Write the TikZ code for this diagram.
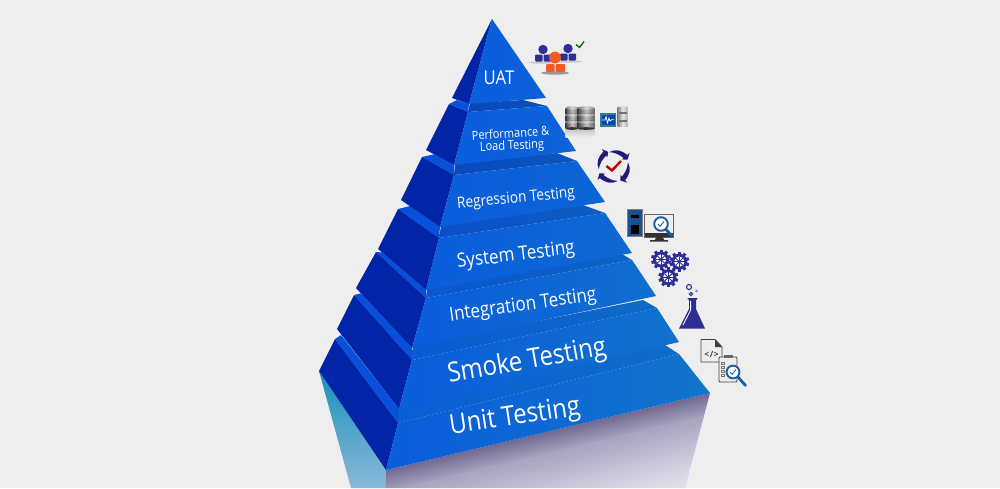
\documentclass[tikz,border=0pt]{standalone}
\usepackage{fontspec}
\setmainfont{Open Sans}
\newfontfamily\labf[FakeStretch=0.88]{Open Sans}
\definecolor{bgc}{HTML}{EEEEEE}
\definecolor{frontL}{HTML}{0A5DDC}
\definecolor{frontR}{HTML}{1274CB}
\definecolor{sidec}{HTML}{0225A8}
\definecolor{stripc}{HTML}{0750DC}
\definecolor{navy}{HTML}{2E2F96}
\definecolor{deepnavy}{HTML}{1F1B78}
\definecolor{orangec}{HTML}{F15A24}
\definecolor{lensb}{HTML}{1B5FA8}
\definecolor{tealT}{HTML}{1592BC}
\definecolor{tealM}{HTML}{0672BA}
\definecolor{tealB}{HTML}{8AB8D8}
\definecolor{lilA}{HTML}{6E668F}
\definecolor{lilB}{HTML}{A8A4C0}
\definecolor{lilC}{HTML}{D6D5E4}
\tikzset{
  lab/.style={text=white,inner sep=0pt,align=center},
  side/.style={fill=sidec},
  paper/.style={draw=black!75,line width=.9pt,fill=bgc,line join=round},
  lens/.style={draw=lensb,line width=1.9pt,fill=white},
  lenshandle/.style={draw=lensb,line width=2.8pt,line cap=round},
}
% #1 side polygon, #2 front polygon, #3 percent towards frontR
\newcommand{\layerfaces}[3]{%
  \fill[side] #1 -- cycle;
  \shade[left color=frontL,right color=frontR!#3!frontL] #2 -- cycle;
}
% #1 strip polygon, #2 ledge polygon, #3 #4 ledge colours
\newcommand{\ledgeface}[4]{%
  \definecolor{lgl}{HTML}{#3}\definecolor{lgr}{HTML}{#4}%
  \shade[left color=lgl,right color=lgr] #2 -- cycle;
  \fill[stripc] #1 -- cycle;
}
\newcommand{\gearicon}[2]{%
  \begin{scope}[shift={(#1,#2)}]
    \foreach \a in {0,36,...,324}{\fill[navy,rotate=\a] (-1.5,-10) rectangle (1.5,-6);}
    \fill[navy] (0,0) circle (8);
    \fill[white] (0,0) circle (5.2);
    \foreach \a in {0,45,90,135}{\draw[navy,line width=.9pt,rotate=\a] (-5.2,0) -- (5.2,0);}
    \fill[navy] (0,0) circle (1.6);
  \end{scope}}
\newcommand{\dbstack}[3]{% x, top y, half width
  \begin{scope}[shift={(#1,#2)}]
    \shade[top color=black!25,bottom color=bgc] (-#3,20) rectangle (#3,29);
    \foreach \k in {0,7,14}{
      \shade[left color=black!75,right color=black!60,middle color=black!25]
        (-#3,\k) rectangle (#3,\k+6.5);
      \fill[black!80] (0,\k+6.5) ellipse (#3 and 1.3);
      \shade[left color=black!55,right color=black!45,middle color=black!15] (0,\k) ellipse (#3 and 1.7);
    }
  \end{scope}}
\begin{document}
\begin{tikzpicture}[x=1pt,y=-1pt]
\useasboundingbox (0,0) rectangle (1000,488);
\fill[bgc] (0,0) rectangle (1000,488);

% plinth below the pyramid
\shade[top color=tealT,middle color=tealM,bottom color=tealB]
  (319,371) -- (386,470) -- (386,488) -- (351,488) -- cycle;
\begin{scope}
  \clip (386,470) -- (710,393) -- (685,488) -- (386,488) -- cycle;
  \begin{scope}[transform canvas={rotate around={13.4:(386,470)}}]
    \shade[top color=lilA,bottom color=lilB] (330,469) rectangle (780,492);
    \shade[top color=lilB,bottom color=lilC] (330,491.8) rectangle (780,540);
    \shade[top color=lilC,bottom color=bgc] (330,539.8) rectangle (780,580);
    \fill[bgc] (330,579.8) rectangle (780,640);
  \end{scope}
\end{scope}

% Unit
\ledgeface{(335,339) -- (341,335) -- (399,409) -- (398,423)}{(399,407) -- (665,345) -- (679,354) -- (398,423)}{0A60D6}{0F6CC8}
\layerfaces{(335,339) -- (398,423) -- (386,470) -- (319,371)}{(398,423) -- (679,354) -- (710,393) -- (386,470)}{100}
% Smoke
\ledgeface{(354,295) -- (361,293.4) -- (412,348) -- (412,360)}{(413,346) -- (643,300) -- (657,308) -- (412,360)}{0A5CD4}{0E6AC6}
\layerfaces{(354,295) -- (412,360) -- (399,409) -- (337,329)}{(412,360) -- (657,308) -- (679,342) -- (399,409)}{88}
% Integration
\ledgeface{(376,252) -- (382,252.4) -- (426,290) -- (426,298)}{(427,288) -- (622,254) -- (632,260) -- (426,298)}{0A56D0}{0D64C4}
\layerfaces{(376,252) -- (426,298) -- (412,348) -- (356,288)}{(426,298) -- (632,260) -- (656,296) -- (412,348)}{75}
% System
\ledgeface{(398,209) -- (410,206) -- (440,227) -- (439,238)}{(441,226) -- (583,205) -- (605,213) -- (439,238)}{0A4EC6}{0C5EC4}
\layerfaces{(398,209) -- (439,238) -- (426,290) -- (378,249)}{(439,238) -- (605,213) -- (632,253) -- (426,290)}{55}
% Regression
\ledgeface{(422,157) -- (434,154.3) -- (454,165) -- (454,175)}{(455,164) -- (557,153) -- (577,161) -- (454,175)}{0A48BC}{0B56C0}
\layerfaces{(422,157) -- (454,175) -- (440,227) -- (401,200)}{(454,175) -- (577,161) -- (605,202) -- (440,227)}{35}
% Performance
\ledgeface{(449,104) -- (457,100) -- (469,104) -- (468,112)}{(470,103) -- (523,100) -- (547,106) -- (468,112)}{0A47B8}{0A50BE}
\layerfaces{(449,104) -- (468,112) -- (454,165) -- (426,150)}{(468,112) -- (547,106) -- (576,151) -- (454,165)}{25}
% UAT
\layerfaces{(492,19) -- (469,104) -- (452,98)}{(492,19) -- (546,98) -- (469,104)}{15}

% labels
\node[lab,font=\labf\fontsize{19}{21}\selectfont] (uat) at (499,78) {UAT};
\node[lab,font=\labf\fontsize{12.5}{14}\selectfont,rotate=4] (perf) at (510.5,133) {Performance \&};
\node[lab,font=\labf\fontsize{12.5}{14}\selectfont,rotate=2.5] (load) at (512,146.5) {Load Testing};
\node[lab,font=\labf\fontsize{15.5}{17}\selectfont,rotate=5.5] (regr) at (516,199) {Regression Testing};
\node[lab,font=\labf\fontsize{19.4}{21}\selectfont,rotate=7] (syst) at (516,256) {System Testing};
\node[lab,font=\labf\fontsize{19.4}{21}\selectfont,rotate=8] (inte) at (523,306) {Integration Testing};
\node[lab,font=\labf\fontsize{27.2}{30}\selectfont,rotate=10] (smok) at (527,362) {Smoke Testing};
\node[lab,font=\labf\fontsize{27.2}{30}\selectfont,rotate=8.5] (unit) at (515,418) {Unit Testing};

% people icon
\fill[black!22] (543,62.5) ellipse (14 and 1.2);
\fill[black!22] (568,61.5) ellipse (14 and 1.2);
\fill[black!40] (555,73) ellipse (14 and 1.7);
\fill[navy] (543,49.5) circle (4.7);
\fill[navy,rounded corners=1pt] (535,54.5) rectangle (542.5,61.5) (543.5,54.5) rectangle (551,61.5);
\fill[navy] (568,48.5) circle (4.7);
\fill[navy,rounded corners=1pt] (560,53.5) rectangle (567.5,60.5) (568.5,53.5) rectangle (576,60.5);
\fill[orangec] (555,57.5) circle (5.9);
\fill[orangec,rounded corners=1pt] (546,64) rectangle (554.5,72) (555.5,64) rectangle (565,72);
\draw[green!40!black,line width=1.3pt,line join=round] (576,44.5) -- (579.5,47.5) -- (584,41.5);

% databases and monitor
\dbstack{572}{108}{6.5}
\dbstack{586}{108}{8.5}
\fill[black!12] (617,106) rectangle (628,127);
\shade[left color=black!50,right color=black!30,middle color=black!10] (617.5,107) rectangle (627.5,126.5);
\foreach \yy in {112,120}{\fill[black!55] (618.5,\yy) rectangle (626.5,\yy+1.6);}
\fill[teal!60!gray] (600,113) rectangle (616,127);
\fill[blue!60!cyan!70!black] (601.5,115) rectangle (614.5,125);
\draw[white,line width=.7pt] (602,120) -- (605,120) -- (606,116.5) -- (607.5,123) -- (609,118) -- (610,121) -- (612,119.5) -- (614,120);

% regression cycle icon
\begin{scope}[shift={(613.5,166.5)}]
  \foreach \a in {-190,-106,-16,74}{
    \fill[deepnavy] (\a:15) .. controls (\a+25:18) and (\a+40:18) .. (\a+66:18)
      -- (\a+66:21) -- (\a+80:15.6) -- (\a+66:11) -- (\a+66:13.2)
      .. controls (\a+40:13.2) and (\a+25:14) .. (\a:15) -- cycle;
  }
  \draw[red!75!black,line width=2.4pt,line join=miter] (-7,-0.5) -- (-1.5,4) -- (7.5,-5.5);
\end{scope}

% system icon
\fill[lensb!85!black,draw=black!50,line width=.9pt] (627.5,209.5) rectangle (642,236);
\fill[black] (631,215) rectangle (639,218);
\fill[black] (631,225) rectangle (639,234);
\fill[bgc,draw=black!60,line width=1pt] (644.5,214.5) rectangle (673,237);
\fill[black!80] (644.5,232.5) rectangle (673,237);
\fill[black!80] (656,237) -- (663,237) -- (664,240) -- (668,240) -- (668,241.5) -- (650,241.5) -- (650,240) -- (655,240) -- cycle;
\draw[lenshandle] (666,229.5) -- (671.5,235.5);
\draw[lens] (661,224) circle (6.8);
\draw[lensb,line width=.9pt] (658,224) -- (660.3,226.2) -- (664,221.5);

% gears
\gearicon{679.3}{261.7}
\gearicon{661}{259.5}
\gearicon{668.3}{277.3}

% flask
\fill[navy] (687.5,298) -- (697.5,298) -- (697,299.6) -- (696,299.6) -- (696,309) -- (705,328.5) -- (679,328.5) -- (689,309) -- (689,299.6) -- (688,299.6) -- cycle;
\draw[white,line width=.8pt] (690.6,301) -- (690.6,310) -- (683,325);
\draw[navy,line width=1.1pt] (689,287) circle (2.5);
\draw[navy,line width=1pt] (691,294) circle (1.7);
\draw[navy!70,line width=.5pt] (696.4,291) circle (1);

% code document and clipboard
\draw[paper] (701,339.5) -- (715,339.5) -- (722,347) -- (722,362) -- (701,362) -- cycle;
\fill[black!75] (715,339.5) -- (722,347) -- (715,347) -- cycle;
\node[inner sep=0pt,font=\fontsize{8.5}{9}\selectfont\bfseries,text=black!75] (code) at (711.5,354) {<\kern.6pt/\kern.6pt>};
\draw[paper,rounded corners=1pt] (719,357) rectangle (737,382);
\fill[black!60] (724,358) rectangle (733,354.5);
\foreach \yy in {362,366,370,374}{\draw[black!55,line width=.6pt] (721.5,\yy) rectangle (724,\yy+2.5);}
\draw[lenshandle] (738,377) -- (745.5,385.5);
\draw[lens] (733,372) circle (6.4);
\draw[lensb,line width=.9pt] (730,372) -- (732.3,374.2) -- (736,369.5);
\end{tikzpicture}
\end{document}
